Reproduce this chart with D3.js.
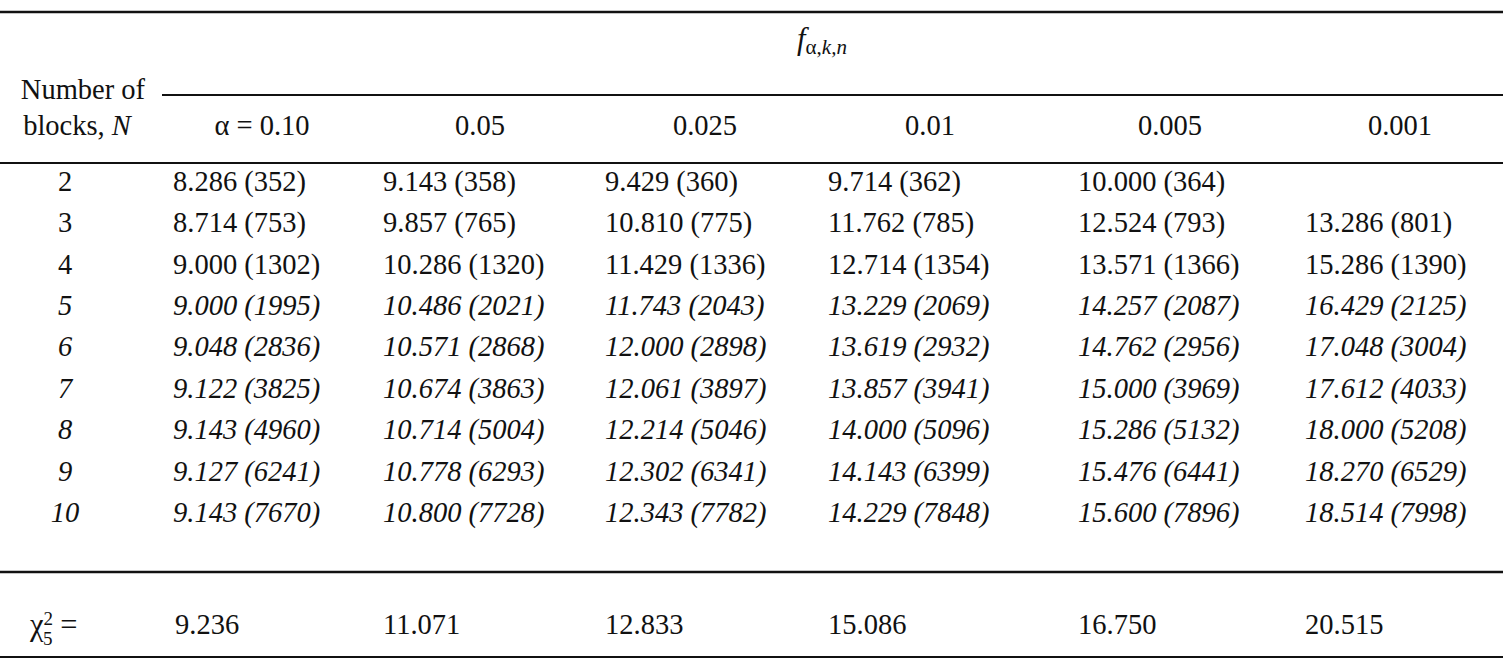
<!DOCTYPE html>
<html><head><meta charset="utf-8">
<script src="https://cdn.jsdelivr.net/npm/d3@7"></script>
<style>body{margin:0;background:#fff}</style></head>
<body><svg id="c" width="1503" height="664"></svg>
<script>
const alphas = ["α = 0.10","0.05","0.025","0.01","0.005","0.001"];
const blocks = [2,3,4,5,6,7,8,9,10];
const italicFrom = 5;
const fvals = [
 ["8.286","9.143","9.429","9.714","10.000",null],
 ["8.714","9.857","10.810","11.762","12.524","13.286"],
 ["9.000","10.286","11.429","12.714","13.571","15.286"],
 ["9.000","10.486","11.743","13.229","14.257","16.429"],
 ["9.048","10.571","12.000","13.619","14.762","17.048"],
 ["9.122","10.674","12.061","13.857","15.000","17.612"],
 ["9.143","10.714","12.214","14.000","15.286","18.000"],
 ["9.127","10.778","12.302","14.143","15.476","18.270"],
 ["9.143","10.800","12.343","14.229","15.600","18.514"]];
const counts = [
 [352,358,360,362,364,null],
 [753,765,775,785,793,801],
 [1302,1320,1336,1354,1366,1390],
 [1995,2021,2043,2069,2087,2125],
 [2836,2868,2898,2932,2956,3004],
 [3825,3863,3897,3941,3969,4033],
 [4960,5004,5046,5096,5132,5208],
 [6241,6293,6341,6399,6441,6529],
 [7670,7728,7782,7848,7896,7998]];
const chi = ["9.236","11.071","12.833","15.086","16.750","20.515"];

const svg = d3.select("#c");
const F = "'Liberation Serif','Times New Roman',serif";
const fs = 28.5;
const colLeft = d3.scaleOrdinal().domain(d3.range(6)).range([173,383,605,828,1078,1305]);
const colCenter = d3.scaleOrdinal().domain(d3.range(6)).range([262,480,705,930,1170,1400]);
const y = d3.scalePoint().domain(blocks).range([181,512]);

function rule(x1,x2,yy,w){svg.append("line").attr("x1",x1).attr("x2",x2).attr("y1",yy).attr("y2",yy).attr("stroke","#111").attr("stroke-width",w);}
rule(0,1503,12,2.5);
rule(162,1503,95,2);
rule(0,1503,163,2);
rule(0,1503,572,2.5);
rule(0,1503,657,2);

function txt(x,yy,s,anchor,italic){return svg.append("text").attr("x",x).attr("y",yy).attr("dy","0.35em")
 .attr("text-anchor",anchor).attr("font-family",F).attr("font-size",fs).attr("fill","#111")
 .attr("font-style",italic?"italic":"normal").text(s);}

const h = svg.append("text").attr("x",822).attr("y",38).attr("dy","0.35em").attr("text-anchor","middle")
 .attr("font-family",F).attr("font-size",fs+2).attr("fill","#111");
h.append("tspan").attr("font-style","italic").text("f");
h.append("tspan").attr("font-size",21).attr("dy",5).text("α,").append("tspan").attr("font-style","italic").text("k,n");

txt(83,89,"Number of","middle");
const b = txt(77,125,"blocks, ","middle");
b.append("tspan").attr("font-style","italic").text("N");
alphas.forEach((a,i)=>txt(colCenter(i),125,a,"middle"));

blocks.forEach((n,r)=>{
  const it = n>=italicFrom;
  txt(65,y(n),String(n),"middle",it);
  fvals[r].forEach((v,c)=>{ if(v!==null) txt(colLeft(c),y(n),v+" ("+counts[r][c]+")","start",it); });
});

const c = svg.append("text").attr("x",30).attr("y",624).attr("dy","0.35em").attr("font-family",F).attr("font-size",fs+2).attr("fill","#111");
c.append("tspan").text("χ");
c.append("tspan").attr("font-size",19).attr("dy",-10).text("2");
c.append("tspan").attr("font-size",19).attr("dx",-10).attr("dy",20).text("5");
c.append("tspan").attr("dy",-10).text(" =");
chi.forEach((v,i)=>txt(colLeft(i)+(i===0?2:0),624,v,"start"));
</script></body></html>
